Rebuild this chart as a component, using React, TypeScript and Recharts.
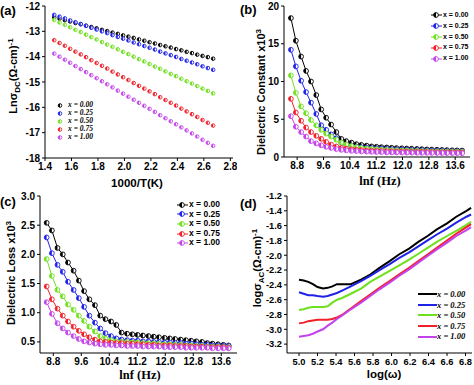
import React from "react";
import { LineChart, Line, XAxis, YAxis } from "recharts";

const seriesNames = ["x = 0.00", "x = 0.25", "x = 0.50", "x = 0.75", "x = 1.00"];
const colors = ["#000000", "#1f22e8", "#6ee01c", "#f0202a", "#c444ec"];

// (a) ln sigma_dc vs 1000/T
const invT = [
  1.47, 1.51, 1.55, 1.59, 1.63, 1.67, 1.71, 1.75, 1.79, 1.83, 1.87, 1.91, 1.95, 1.99, 2.03, 2.07,
  2.11, 2.15, 2.19, 2.23, 2.27, 2.31, 2.35, 2.39, 2.43, 2.47, 2.51, 2.55, 2.59, 2.63, 2.67,
];
const lnSig000 = [
  -12.45, -12.5, -12.56, -12.61, -12.67, -12.72, -12.78, -12.83, -12.88, -12.94, -12.99, -13.05,
  -13.1, -13.16, -13.21, -13.26, -13.32, -13.37, -13.43, -13.48, -13.54, -13.59, -13.64, -13.7,
  -13.75, -13.81, -13.86, -13.92, -13.97, -14.02, -14.08,
];
const lnSig025 = [
  -12.35, -12.42, -12.49, -12.57, -12.64, -12.71, -12.78, -12.86, -12.93, -13.0, -13.07, -13.15,
  -13.22, -13.29, -13.36, -13.44, -13.51, -13.58, -13.65, -13.72, -13.8, -13.87, -13.94, -14.01,
  -14.09, -14.16, -14.23, -14.3, -14.38, -14.45, -14.52,
];
const lnSig050 = [
  -12.55, -12.65, -12.74, -12.84, -12.94, -13.03, -13.13, -13.23, -13.32, -13.42, -13.52, -13.61,
  -13.71, -13.81, -13.9, -14.0, -14.1, -14.19, -14.29, -14.39, -14.48, -14.58, -14.68, -14.77,
  -14.87, -14.97, -15.06, -15.16, -15.26, -15.35, -15.45,
];
const lnSig075 = [
  -13.35, -13.46, -13.57, -13.69, -13.8, -13.91, -14.02, -14.14, -14.25, -14.36, -14.47, -14.59,
  -14.7, -14.81, -14.92, -15.04, -15.15, -15.26, -15.37, -15.48, -15.6, -15.71, -15.82, -15.93,
  -16.05, -16.16, -16.27, -16.38, -16.5, -16.61, -16.72,
];
const lnSig100 = [
  -13.88, -14.0, -14.12, -14.24, -14.37, -14.49, -14.61, -14.73, -14.85, -14.97, -15.09, -15.21,
  -15.34, -15.46, -15.58, -15.7, -15.82, -15.94, -16.06, -16.18, -16.31, -16.43, -16.55, -16.67,
  -16.79, -16.91, -17.03, -17.15, -17.28, -17.4, -17.52,
];

// (b), (c) vs ln f
const lnf = [
  8.61, 8.76, 8.92, 9.07, 9.22, 9.38, 9.53, 9.68, 9.83, 9.99, 10.14, 10.29, 10.45, 10.6, 10.75,
  10.91, 11.06, 11.21, 11.36, 11.52, 11.67, 11.82, 11.98, 12.13, 12.28, 12.44, 12.59, 12.74, 12.89,
  13.05, 13.2, 13.35, 13.51, 13.66, 13.81,
];
const eps000 = [
  18.4, 15.4, 13.3, 11.4, 10.0, 8.2, 6.3, 5.2, 4.3, 3.3, 2.4, 2.1, 1.9, 1.7, 1.6, 1.5, 1.4, 1.35,
  1.3, 1.26, 1.22, 1.18, 1.15, 1.12, 1.09, 1.06, 1.03, 1.0, 0.98, 0.96, 0.93, 0.91, 0.89, 0.87, 0.85,
];
const eps025 = [
  14.2, 12.0, 10.1, 8.6, 7.2, 5.7, 4.2, 3.6, 3.0, 2.5, 1.9, 1.6, 1.45, 1.35, 1.28, 1.22, 1.17, 1.13,
  1.1, 1.06, 1.03, 1.0, 0.98, 0.95, 0.93, 0.91, 0.89, 0.87, 0.85, 0.83, 0.81, 0.79, 0.77, 0.76, 0.75,
];
const eps050 = [
  10.8, 8.5, 6.7, 5.8, 4.9, 4.2, 3.6, 3.1, 2.7, 2.3, 1.9, 1.65, 1.45, 1.3, 1.2, 1.12, 1.06, 1.01,
  0.97, 0.94, 0.91, 0.88, 0.86, 0.84, 0.82, 0.8, 0.78, 0.77, 0.75, 0.74, 0.73, 0.72, 0.71, 0.7, 0.69,
];
const eps075 = [
  7.7, 5.9, 4.8, 3.9, 3.3, 2.8, 2.4, 2.0, 1.65, 1.4, 1.2, 1.1, 1.02, 0.96, 0.91, 0.87, 0.84, 0.81,
  0.79, 0.77, 0.75, 0.73, 0.72, 0.7, 0.69, 0.68, 0.67, 0.66, 0.65, 0.64, 0.63, 0.62, 0.62, 0.61, 0.6,
];
const eps100 = [
  5.4, 4.0, 3.3, 2.7, 2.1, 1.8, 1.55, 1.35, 1.2, 1.05, 0.95, 0.88, 0.82, 0.78, 0.74, 0.71, 0.68,
  0.66, 0.64, 0.62, 0.61, 0.6, 0.59, 0.58, 0.57, 0.56, 0.55, 0.55, 0.54, 0.53, 0.53, 0.52, 0.52,
  0.51, 0.5,
];
const loss000 = [
  2.54, 2.41, 2.11, 2.0, 1.86, 1.72, 1.55, 1.37, 1.23, 1.13, 0.95, 0.89, 0.85, 0.79, 0.66, 0.64,
  0.63, 0.62, 0.61, 0.6, 0.59, 0.58, 0.57, 0.56, 0.55, 0.54, 0.53, 0.52, 0.51, 0.5, 0.48, 0.47,
  0.46, 0.45, 0.44,
];
const loss025 = [
  2.29, 2.02, 1.82, 1.7, 1.53, 1.39, 1.25, 1.1, 0.95, 0.83, 0.73, 0.65, 0.6, 0.56, 0.54, 0.53, 0.52,
  0.52, 0.51, 0.51, 0.5, 0.5, 0.49, 0.49, 0.48, 0.48, 0.47, 0.47, 0.46, 0.45, 0.45, 0.44, 0.44,
  0.43, 0.43,
];
const loss050 = [
  1.92, 1.63, 1.39, 1.28, 1.14, 1.05, 0.95, 0.86, 0.76, 0.68, 0.6, 0.56, 0.53, 0.51, 0.5, 0.5, 0.49,
  0.49, 0.48, 0.48, 0.47, 0.47, 0.46, 0.46, 0.45, 0.45, 0.44, 0.44, 0.43, 0.43, 0.42, 0.42, 0.42,
  0.41, 0.41,
];
const loss075 = [
  1.45, 1.23, 1.07, 0.95, 0.85, 0.76, 0.69, 0.63, 0.58, 0.54, 0.51, 0.5, 0.49, 0.48, 0.48, 0.47,
  0.47, 0.46, 0.46, 0.45, 0.45, 0.44, 0.44, 0.44, 0.43, 0.43, 0.43, 0.42, 0.42, 0.42, 0.41, 0.41,
  0.41, 0.41, 0.4,
];
const loss100 = [
  1.18, 0.98, 0.82, 0.73, 0.66, 0.6, 0.55, 0.51, 0.49, 0.47, 0.46, 0.45, 0.45, 0.44, 0.44, 0.43,
  0.43, 0.43, 0.42, 0.42, 0.42, 0.42, 0.41, 0.41, 0.41, 0.41, 0.4, 0.4, 0.4, 0.4, 0.4, 0.39, 0.39,
  0.39, 0.39,
];

// (d) log sigma_ac vs log omega
const logW = [
  5.0, 5.05, 5.1, 5.15, 5.2, 5.26, 5.31, 5.36, 5.41, 5.46, 5.56, 5.67, 5.77, 5.87, 5.98, 6.08, 6.19,
  6.29, 6.39, 6.49, 6.6, 6.7, 6.81, 6.86,
];
const ac000 = [
  -2.33, -2.34, -2.36, -2.39, -2.43, -2.45, -2.44, -2.42, -2.39, -2.39, -2.39, -2.33, -2.26, -2.17,
  -2.08, -1.99, -1.91, -1.82, -1.74, -1.65, -1.57, -1.48, -1.4, -1.36,
];
const ac025 = [
  -2.5, -2.52, -2.54, -2.54, -2.55, -2.56, -2.55, -2.53, -2.51, -2.48, -2.42, -2.35, -2.28, -2.2,
  -2.12, -2.04, -1.96, -1.88, -1.8, -1.72, -1.64, -1.56, -1.48, -1.45,
];
const ac050 = [
  -2.74, -2.73, -2.71, -2.7, -2.7, -2.7, -2.69, -2.64, -2.6, -2.58, -2.52, -2.45, -2.36, -2.29,
  -2.21, -2.14, -2.06, -1.98, -1.9, -1.82, -1.74, -1.67, -1.59, -1.55,
];
const ac075 = [
  -2.92, -2.91, -2.89, -2.88, -2.87, -2.87, -2.87, -2.86, -2.84, -2.81, -2.72, -2.62, -2.53, -2.44,
  -2.35, -2.26, -2.17, -2.08, -1.99, -1.9, -1.8, -1.71, -1.62, -1.58,
];
const ac100 = [
  -3.1, -3.09, -3.08, -3.06, -3.03, -3.0, -2.95, -2.91, -2.86, -2.82, -2.73, -2.64, -2.55, -2.46,
  -2.37, -2.28, -2.19, -2.1, -2.01, -1.92, -1.83, -1.74, -1.66, -1.62,
];

const toRows = (xs: number[], ys: number[][]) =>
  xs.map((x, i) => {
    const row: any = { x };
    ys.forEach((s, k) => (row["s" + k] = s[i]));
    return row;
  });

const dataA = toRows(invT, [lnSig000, lnSig025, lnSig050, lnSig075, lnSig100]);
const dataB = toRows(lnf, [eps000, eps025, eps050, eps075, eps100]);
const dataC = toRows(lnf, [loss000, loss025, loss050, loss075, loss100]);
const dataD = toRows(logW, [ac000, ac025, ac050, ac075, ac100]);

const sans = "'Liberation Sans', Arial, sans-serif";
const serif = "'Liberation Serif', 'Times New Roman', serif";
const tickStyle = { fontSize: 10, fontWeight: 700, fill: "#000", fontFamily: sans };
const tickSmall = { ...tickStyle, fontSize: 9.3 };
const axisLine = { stroke: "#000", strokeWidth: 1 };

const halfDot = (color: string, r: number) => (p: any) => {
  const { cx, cy, index } = p;
  if (cx == null || cy == null) return <g key={"d" + index} />;
  return (
    <g key={"d" + index}>
      <circle cx={cx} cy={cy} r={r} fill="#fff" stroke={color} strokeWidth={0.9} />
      <path d={`M${cx},${cy - r}A${r},${r} 0 0 0 ${cx},${cy + r}Z`} fill={color} />
    </g>
  );
};

// mirrored axes to close the frame
const frame = [
  <XAxis key="fx" xAxisId="top" orientation="top" type="number" domain={[0, 1]} height={0} tick={false} tickLine={false} axisLine={axisLine} />,
  <YAxis key="fy" yAxisId="right" orientation="right" type="number" domain={[0, 1]} width={0} tick={false} tickLine={false} axisLine={axisLine} />,
];

const fmt1 = (v: number) => v.toFixed(1);

function PanelA() {
  return (
    <LineChart width={237} height={190} data={dataA} margin={{ top: 6, right: 4, bottom: 0, left: 0 }}>
      <XAxis dataKey="x" type="number" domain={[1.4, 2.82]} ticks={[1.4, 1.6, 1.8, 2.0, 2.2, 2.4, 2.6, 2.8]} tickFormatter={fmt1} tick={tickStyle} tickSize={3} axisLine={axisLine} tickLine={axisLine} height={32} interval={0} />
      <YAxis type="number" domain={[-18, -12]} ticks={[-18, -17, -16, -15, -14, -13, -12]} tick={tickStyle} tickSize={3} axisLine={axisLine} tickLine={axisLine} width={45} interval={0} />
      {frame}
      {colors.map((c, k) => (
        <Line key={k} dataKey={"s" + k} stroke="none" isAnimationActive={false} dot={halfDot(c, 1.8)} activeDot={false} />
      ))}
    </LineChart>
  );
}

function PanelB() {
  return (
    <LineChart width={237} height={190} data={dataB} margin={{ top: 6, right: 4, bottom: 0, left: 0 }}>
      <XAxis dataKey="x" type="number" domain={[8.4, 14.05]} ticks={[8.8, 9.6, 10.4, 11.2, 12.0, 12.8, 13.6]} tickFormatter={fmt1} tick={tickStyle} tickSize={3} axisLine={axisLine} tickLine={axisLine} height={33} interval={0} />
      <YAxis type="number" domain={[0, 20]} ticks={[0, 5, 10, 15, 20]} tick={tickStyle} tickSize={3} axisLine={axisLine} tickLine={axisLine} width={47} interval={0} />
      {frame}
      {colors.map((c, k) => (
        <Line key={k} dataKey={"s" + k} stroke={c} strokeWidth={1} isAnimationActive={false} dot={halfDot(c, 2.4)} activeDot={false} />
      ))}
    </LineChart>
  );
}

function PanelC() {
  return (
    <LineChart width={240} height={195} data={dataC} margin={{ top: 6, right: 3, bottom: 0, left: 0 }}>
      <XAxis dataKey="x" type="number" domain={[8.42, 14.05]} ticks={[8.8, 9.6, 10.4, 11.2, 12.0, 12.8, 13.6]} tickFormatter={fmt1} tick={tickStyle} tickSize={3} axisLine={axisLine} tickLine={axisLine} height={32} interval={0} />
      <YAxis type="number" domain={[0.31, 3.0]} ticks={[0.5, 1.0, 1.5, 2.0, 2.5, 3.0]} tickFormatter={fmt1} tick={tickStyle} tickSize={3} axisLine={axisLine} tickLine={axisLine} width={40} interval={0} />
      {frame}
      {colors.map((c, k) => (
        <Line key={k} dataKey={"s" + k} stroke={c} strokeWidth={1} isAnimationActive={false} dot={halfDot(c, 2.4)} activeDot={false} />
      ))}
    </LineChart>
  );
}

function PanelD() {
  const xt = [5.0, 5.2, 5.4, 5.6, 5.8, 6.0, 6.2, 6.4, 6.6, 6.8];
  const yt = [-3.2, -3.0, -2.8, -2.6, -2.4, -2.2, -2.0, -1.8, -1.6, -1.4, -1.2];
  return (
    <LineChart width={237} height={195} data={dataD} margin={{ top: 6, right: 2, bottom: 0, left: 0 }}>
      <XAxis dataKey="x" type="number" domain={[4.87, 6.87]} ticks={xt} tickFormatter={fmt1} tick={tickSmall} tickSize={3} axisLine={axisLine} tickLine={axisLine} height={32} interval={0} />
      <YAxis type="number" domain={[-3.32, -1.2]} ticks={yt} tickFormatter={fmt1} tick={tickSmall} tickSize={3} axisLine={axisLine} tickLine={axisLine} width={50} interval={0} />
      {frame}
      {colors.map((c, k) => (
        <Line key={k} dataKey={"s" + k} stroke={c} strokeWidth={2} isAnimationActive={false} dot={false} activeDot={false} />
      ))}
    </LineChart>
  );
}

const abs = (left: number, top: number): React.CSSProperties => ({ position: "absolute", left, top });

function LegendBox({ left, top, step, kind, font, size, italic }: any) {
  return (
    <div style={{ ...abs(left, top), fontFamily: font, fontSize: size, fontWeight: 700, fontStyle: italic ? "italic" : "normal", lineHeight: step + "px" }}>
      {seriesNames.map((n, k) => (
        <div key={n} style={{ display: "flex", alignItems: "center", height: step, whiteSpace: "nowrap" }}>
          {kind === "dot" && (
            <svg width={9} height={7} style={{ marginRight: 3 }}>
              {halfDot(colors[k], 1.8)({ cx: 4, cy: 3.5, index: k })}
            </svg>
          )}
          {kind === "lineDot" && (
            <svg width={11} height={8} style={{ marginRight: 1 }}>
              <line x1={0} y1={4} x2={11} y2={4} stroke={colors[k]} strokeWidth={1} />
              {halfDot(colors[k], 2.4)({ cx: 5, cy: 4, index: k })}
            </svg>
          )}
          {kind === "line" && (
            <svg width={19} height={6} style={{ marginRight: 0 }}>
              <line x1={0} y1={3} x2={19} y2={3} stroke={colors[k]} strokeWidth={2} />
            </svg>
          )}
          <span>{n}</span>
        </div>
      ))}
    </div>
  );
}

export default function App() {
  const t = { fontFamily: sans, fontWeight: 700, fill: "#000" };
  return (
    <div style={{ position: "fixed", left: 0, top: 0, width: 474, height: 385, background: "#fff", overflow: "hidden" }}>
      <div style={abs(0, 0)}><PanelA /></div>
      <div style={abs(237, 0)}><PanelB /></div>
      <div style={abs(0, 190)}><PanelC /></div>
      <div style={abs(237, 190)}><PanelD /></div>

      <LegendBox left={56} top={101} step={8} kind="dot" font={serif} size={7.5} italic />
      <LegendBox left={431} top={10} step={10.8} kind="lineDot" font={sans} size={7} />
      <LegendBox left={177} top={200} step={9.6} kind="lineDot" font={sans} size={8.5} />
      <LegendBox left={418} top={289} step={10.6} kind="line" font={serif} size={8.5} italic />

      <svg width={474} height={385} style={{ position: "absolute", left: 0, top: 0, pointerEvents: "none" }}>
        <text x={0} y={15} fontSize={13} {...t}>(a)</text>
        <text x={240} y={14} fontSize={13} {...t}>(b)</text>
        <text x={0} y={206} fontSize={13} {...t}>(c)</text>
        <text x={240} y={208} fontSize={13} {...t}>(d)</text>

        <text transform="translate(17,76) rotate(-90)" textAnchor="middle" fontSize={11} {...t}>
          Lnσ<tspan fontSize={8} dy={3}>DC</tspan>
          <tspan dy={-3}>(Ω-cm)</tspan>
          <tspan fontSize={8} dy={-4}>-1</tspan>
        </text>
        <text x={137} y={187} textAnchor="middle" fontSize={11.5} {...t}>1000/T(K)</text>

        <text transform="translate(265,92) rotate(-90)" textAnchor="middle" fontSize={11} {...t}>
          Dielectric Constant x10<tspan fontSize={8} dy={-4}>3</tspan>
        </text>
        <text x={380} y={185} textAnchor="middle" fontSize={12.5} fontFamily={serif} fontWeight={700}>lnf (Hz)</text>

        <text transform="translate(15,273) rotate(-90)" textAnchor="middle" fontSize={11} {...t}>
          Dielectric Loss x10<tspan fontSize={8} dy={-4}>3</tspan>
        </text>
        <text x={140} y={379} textAnchor="middle" fontSize={12.5} fontFamily={serif} fontWeight={700}>lnf (Hz)</text>

        <text transform="translate(261,268) rotate(-90)" textAnchor="middle" fontSize={11} {...t}>
          logσ<tspan fontSize={8} dy={3}>AC</tspan>
          <tspan dy={-3}>(Ω-cm)</tspan>
          <tspan fontSize={8} dy={-4}>-1</tspan>
        </text>
        <text x={384} y={378} textAnchor="middle" fontSize={11.5} {...t}>log(ω)</text>
      </svg>
    </div>
  );
}
